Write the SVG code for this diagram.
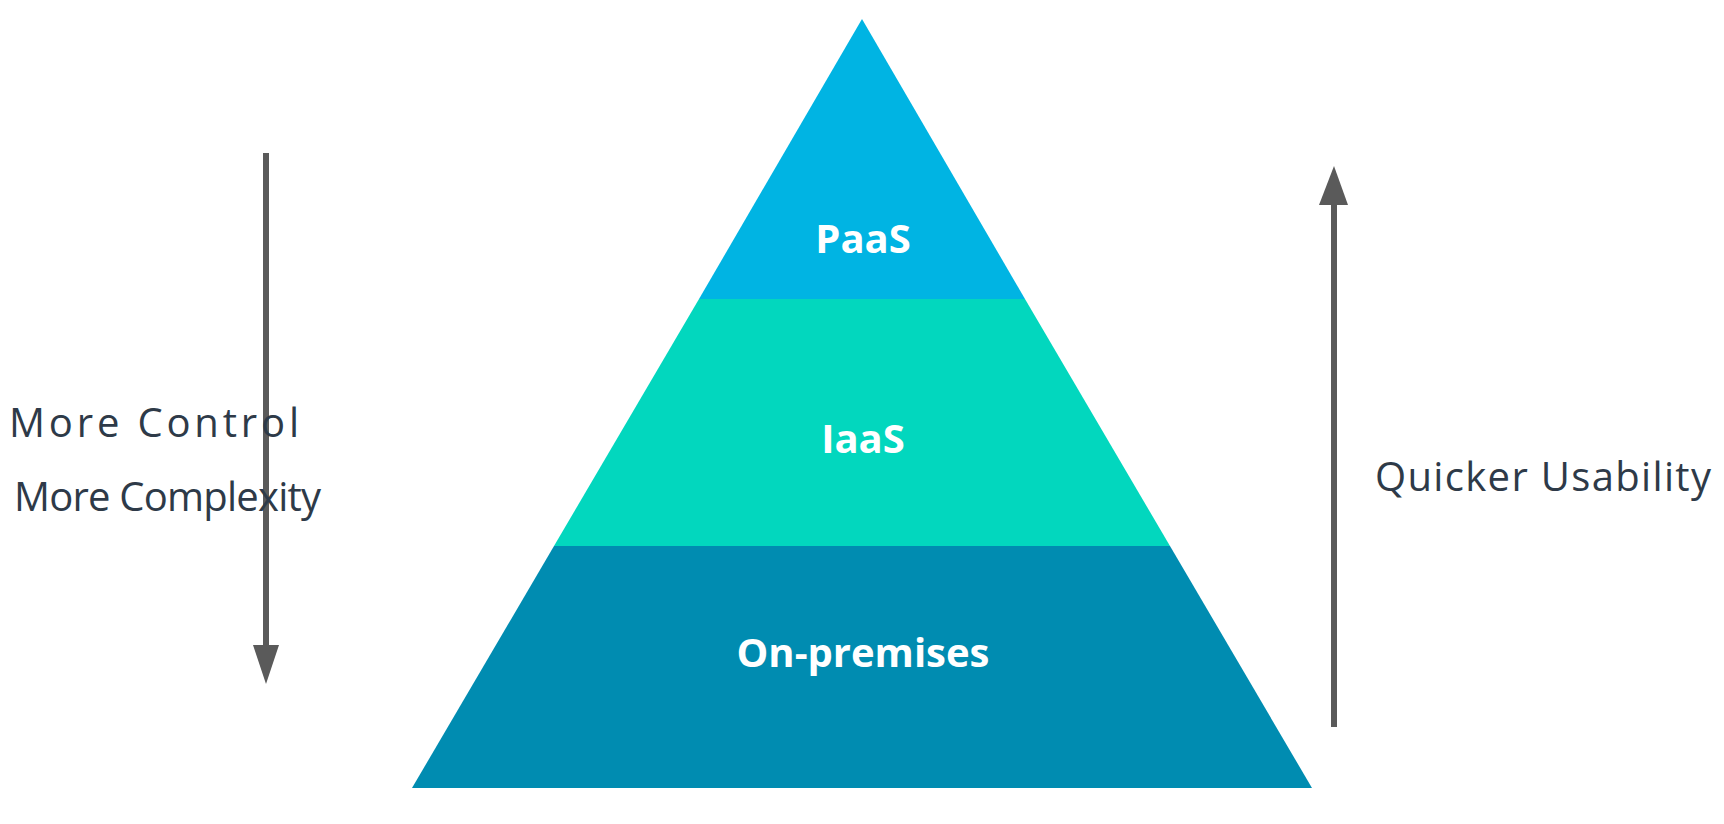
<svg xmlns="http://www.w3.org/2000/svg" width="1724" height="824" viewBox="0 0 1724 824">
<style>
.lbl{font-family:"Open Sans","Liberation Sans",sans-serif;font-size:40px;fill:#2e3a48}
.in{font-family:"Open Sans","Liberation Sans",sans-serif;font-size:40px;font-weight:bold;fill:#fff;text-anchor:middle}
.ar{stroke:#5a5a5a;stroke-width:6;fill:none}
.hd{fill:#5a5a5a}
</style>
<rect width="1724" height="824" fill="#fff"/>
<g id="paas"><polygon points="862,19 699,299 1025,299" fill="#00b4e3"/><text class="in" x="863" y="253">PaaS</text></g>
<g id="iaas"><polygon points="699,299 1025,299 1170,546 554,546" fill="#02d7be"/><text class="in" x="863" y="453">IaaS</text></g>
<g id="onprem"><polygon points="554,546 1170,546 1312,788 412,788" fill="#008cb1"/><text class="in" x="863" y="667">On-premises</text></g>
<g id="connectors">
<line class="ar" x1="266" y1="153" x2="266" y2="648"/>
<polygon class="hd" points="253,645 279,645 266,684"/>
<line class="ar" x1="1334" y1="727" x2="1334" y2="202"/>
<polygon class="hd" points="1319,205 1348,205 1334,166"/>
</g>
<g id="labels">
<text class="lbl" x="9" y="437" textLength="290">More Control</text>
<text class="lbl" x="14" y="511" textLength="307">More Complexity</text>
<text class="lbl" x="1375" y="491" textLength="336">Quicker Usability</text>
</g>
</svg>
